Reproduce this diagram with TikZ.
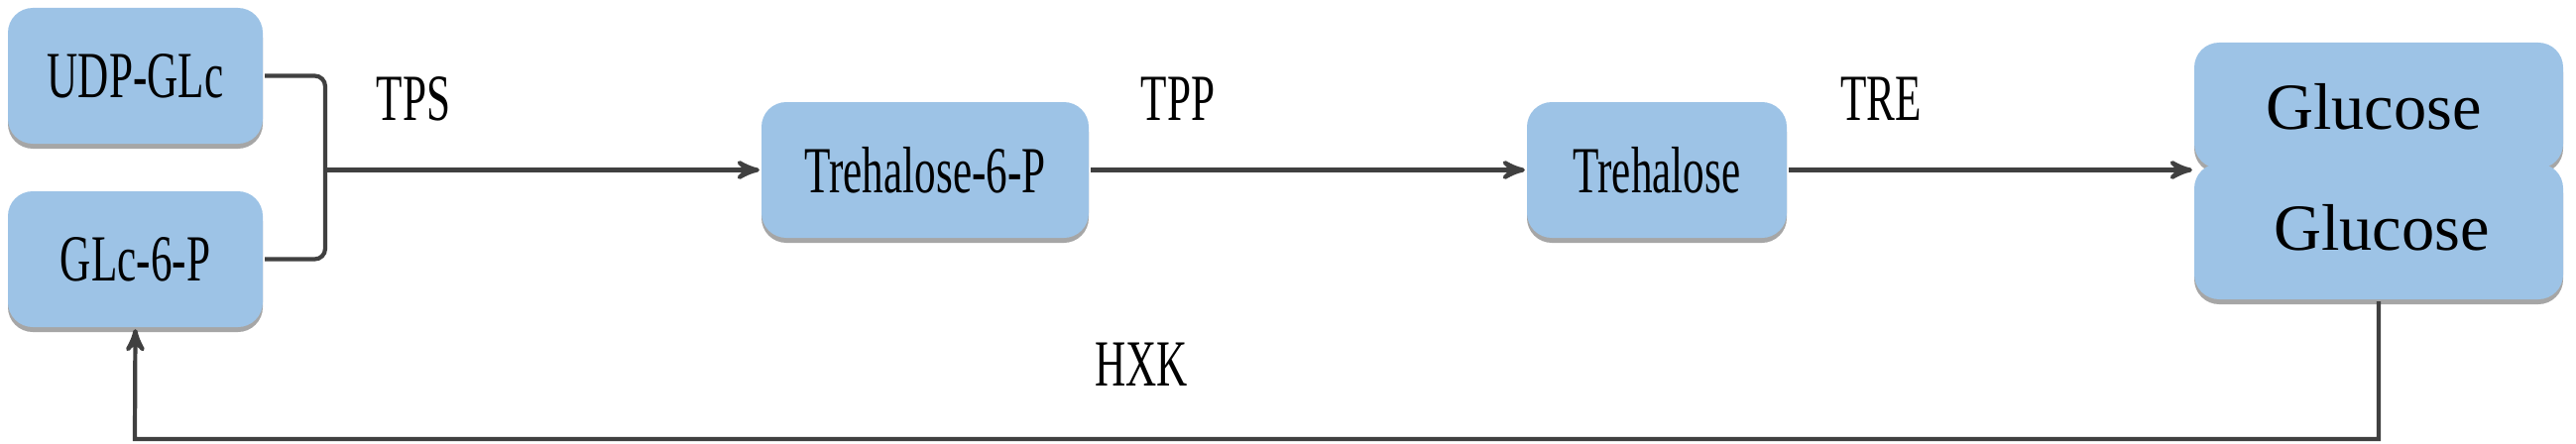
\documentclass[tikz,border=0pt]{standalone}
\usepackage{fontspec}
\setmainfont{Liberation Serif}
\newfontfamily\narrowfont[FakeStretch=0.65]{Liberation Serif}
\usetikzlibrary{arrows,shadows}

\definecolor{boxblue}{HTML}{9DC3E6}
\definecolor{linegray}{HTML}{404040}

\begin{document}
\begin{tikzpicture}[
	line width = 1.2pt,
	>=stealth',
	box/.style = {
		fill = boxblue,
		rounded corners = 0.25cm,
		inner sep = 0pt,
		minimum height = 1.37cm,
		font = \narrowfont\fontsize{18.9}{22}\selectfont,
		drop shadow = {shadow xshift = 0pt, shadow yshift = -0.05cm, fill = black, opacity = 0.35}
	},
	link/.style = {
		draw = linegray
	},
	enzyme/.style = {
		font = \narrowfont\fontsize{18.9}{22}\selectfont
	},
	sugar/.style = {
		font = \fontsize{18.9}{22}\selectfont
	}
	]
	\useasboundingbox (0,0) rectangle (25.98,4.47);
	\node[box, minimum width = 2.57cm] (udp) at (1.365,3.705) {UDP-GLc};
	\node[box, minimum width = 2.57cm] (glc6p) at (1.365,1.855) {GLc-6-P};
	\node[box, minimum width = 3.30cm] (t6p) at (9.33,2.755) {Trehalose-6-P};
	\node[box, minimum width = 2.62cm] (tre) at (16.71,2.755) {Trehalose};
	\node[box, minimum width = 3.72cm, minimum height = 1.27cm] (glu1) at (23.99,3.405) {};
	\node[box, minimum width = 3.72cm] (glu2) at (23.99,2.135) {};
	\node[sugar] at (23.94,3.39) {Glucose};
	\node[sugar] at (24.02,2.17) {Glucose};
	\coordinate (join) at (3.28,2.755);
	\coordinate (loop) at (1.36,0.04);

	\draw[link, rounded corners = 3pt] (udp.east) -- (udp.east -| join) -- (glc6p.east -| join) -- (glc6p.east);
	\draw[link, ->] (join) -- (t6p.west);
	\draw[link, ->] (t6p.east) -- (tre.west);
	\draw[link, ->] (tre.east) -- (tre.east -| glu1.west);
	\draw[link, ->] (glu2.south) |- (loop) -- (glc6p.south);

	\draw (4.17,3.47) node[enzyme] {TPS};
	\draw (11.88,3.47) node[enzyme] {TPP};
	\draw (18.97,3.47) node[enzyme] {TRE};
	\draw (11.51,0.79) node[enzyme] {HXK};
\end{tikzpicture}
\end{document}
